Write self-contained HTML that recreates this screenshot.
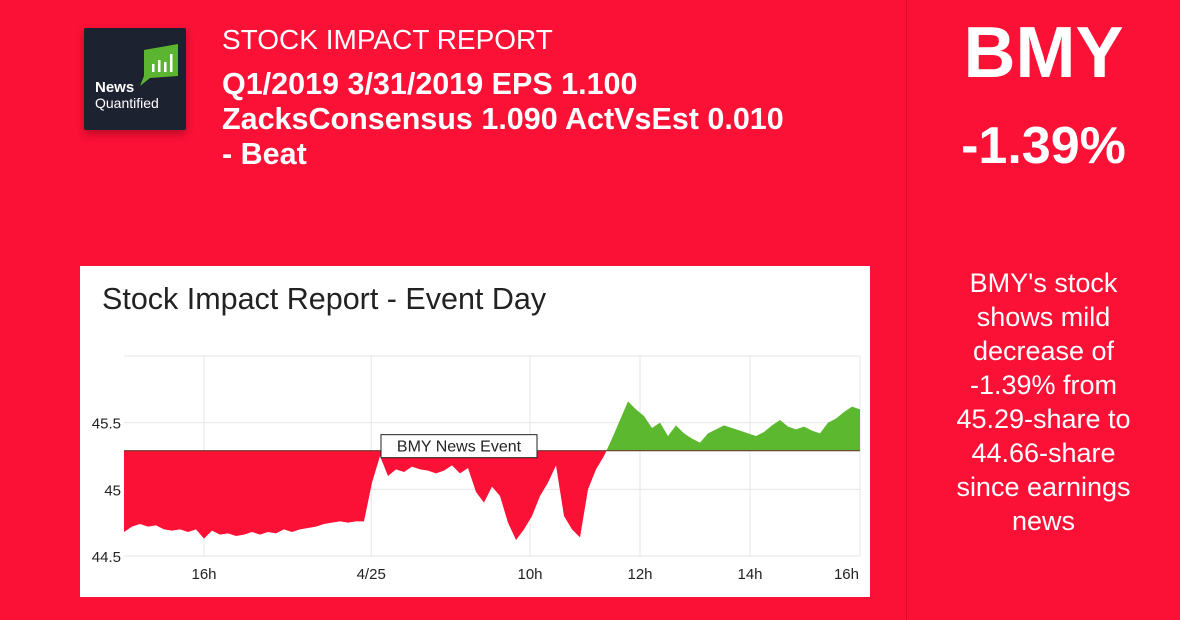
<!DOCTYPE html>
<html><head><meta charset="utf-8"><style>
body{margin:0;width:1180px;height:620px;background:#fb1036;font-family:"Liberation Sans",Arial,sans-serif;position:relative;overflow:hidden;color:#fff}
.abs{position:absolute}
</style></head><body>
<div class="abs" style="left:84px;top:28px;width:102px;height:102px;background:#1c2230;border-radius:2px;box-shadow:0 4px 8px rgba(0,0,0,0.25)">
 <svg width="102" height="102"><path d="M60 22 L94 16 L94 48 L66 50 L56 58 L60 48 Z" fill="#5cb531"/><g fill="#fff"><rect x="68" y="36" width="2.5" height="8"/><rect x="74" y="32" width="2.5" height="12"/><rect x="80" y="34" width="2.5" height="10"/><rect x="86" y="26" width="2.5" height="18"/></g>
 <text x="11" y="64" font-size="15" font-weight="bold" fill="#fff" font-family="Liberation Sans">News</text>
 <text x="11" y="80" font-size="14" fill="#fff" font-family="Liberation Sans">Quantified</text></svg>
</div>
<div class="abs" style="left:222px;top:24px;font-size:28px;white-space:nowrap">STOCK IMPACT REPORT</div>
<div class="abs" style="left:222px;top:67px;font-size:30.5px;font-weight:bold;line-height:35px;white-space:nowrap">Q1/2019 3/31/2019 EPS 1.100<br>ZacksConsensus 1.090 ActVsEst 0.010<br>- Beat</div>
<div class="abs" style="left:906px;top:0;width:1px;height:620px;background:#d80c2c"></div>
<div class="abs" style="left:907px;width:273px;top:12px;text-align:center;font-size:72px;font-weight:bold">BMY</div>
<div class="abs" style="left:907px;width:273px;top:116px;text-align:center;font-size:52px;font-weight:bold">-1.39%</div>
<div class="abs" style="left:907px;width:273px;top:266px;text-align:center;font-size:27px;line-height:34px;white-space:nowrap">BMY's stock<br>shows mild<br>decrease of<br>-1.39% from<br>45.29-share to<br>44.66-share<br>since earnings<br>news</div>
<div class="abs" style="left:80px;top:266px;width:790px;height:331px;background:#fff">
<svg id="ch" width="790" height="331" style="position:absolute;left:0;top:0"></svg>
</div>
<script>
const prices=[44.68,44.72,44.74,44.72,44.73,44.70,44.69,44.70,44.68,44.70,44.63,44.69,44.66,44.67,44.65,44.66,44.68,44.66,44.68,44.67,44.70,44.68,44.70,44.71,44.72,44.74,44.75,44.76,44.75,44.76,44.76,45.05,45.25,45.10,45.15,45.13,45.17,45.15,45.14,45.12,45.14,45.18,45.12,45.16,44.98,44.90,45.02,44.95,44.75,44.62,44.70,44.80,44.95,45.05,45.18,44.80,44.70,44.64,45.00,45.15,45.25,45.38,45.52,45.66,45.60,45.55,45.46,45.50,45.40,45.48,45.42,45.38,45.35,45.42,45.45,45.48,45.46,45.44,45.42,45.40,45.43,45.48,45.52,45.47,45.45,45.47,45.44,45.42,45.50,45.53,45.58,45.62,45.60];
const baseline=45.29;
const yTicks=[44.5,45,45.5];
const yTickLabels=["44.5","45","45.5"];
const xTickIdx=[10,30.9,50.75,64.5,78.25,92];
const xTickLabels=["16h","4/25","10h","12h","14h","16h"];
const eventIdx=32;
const eventLabel="BMY News Event";
(function(){
const ns="http://www.w3.org/2000/svg",svg=document.getElementById('ch');
const L=44,R=780,T=90,B=290,ymin=44.5,ymax=46;
const X=i=>L+i*(R-L)/(prices.length-1);
const Y=v=>B-(v-ymin)/(ymax-ymin)*(B-T);
function el(t,a,p){const e=document.createElementNS(ns,t);for(const k in a)e.setAttribute(k,a[k]);(p||svg).appendChild(e);return e;}
const title=el('text',{x:22,y:43,'font-size':30.5,fill:'#222','font-family':'Liberation Sans, Arial, sans-serif'});title.textContent="Stock Impact Report - Event Day";


[44.5,45,45.5,46].forEach(v=>{const g=el('line',{x1:L,x2:R,y1:Y(v),y2:Y(v),stroke:'#e4e4e4'});

});
xTickIdx.forEach((i,k)=>{const g=el('line',{x1:X(i),x2:X(i),y1:T,y2:B,stroke:'#e4e4e4'});


const last=k===xTickIdx.length-1;
const t=el('text',{x:last?X(i)-1:X(i),y:B+23,'font-size':15,fill:'#222','text-anchor':last?'end':'middle','font-family':'Liberation Sans, Arial, sans-serif'});t.textContent=xTickLabels[k];

});
el('line',{x1:R,x2:R,y1:T,y2:B,stroke:'#e4e4e4'});
yTicks.forEach((v,k)=>{const t=el('text',{x:L-3,y:Y(v)+6,'font-size':15,fill:'#222','text-anchor':'end','font-family':'Liberation Sans, Arial, sans-serif'});t.textContent=yTickLabels[k];

});
const defs=el('defs',{});
const by=Y(baseline);
const c1=el('clipPath',{id:'up'},defs);el('rect',{x:0,y:0,width:790,height:by},c1);
const c2=el('clipPath',{id:'dn'},defs);el('rect',{x:0,y:by,width:790,height:331},c2);
let d=`M${X(0)},${by}`;prices.forEach((v,i)=>d+=` L${X(i)},${Y(v)}`);d+=` L${X(prices.length-1)},${by}Z`;
const g=el('path',{d,fill:'#5cb82e','clip-path':'url(#up)'});


const r=el('path',{d,fill:'#fb1036','clip-path':'url(#dn)'});


const bl=el('line',{x1:L,x2:R,y1:by,y2:by,stroke:'#6b3a2a','stroke-width':1.2});


const ex=X(eventIdx)-8,bx=el('rect',{x:ex+9,y:by-16,width:156,height:23,fill:'#fff',stroke:'#222'});


const et=el('text',{x:ex+87,y:by+1,'font-size':16,fill:'#222','text-anchor':'middle','font-family':'Liberation Sans, Arial, sans-serif'});et.textContent=eventLabel;


})();
</script>
</body></html>
